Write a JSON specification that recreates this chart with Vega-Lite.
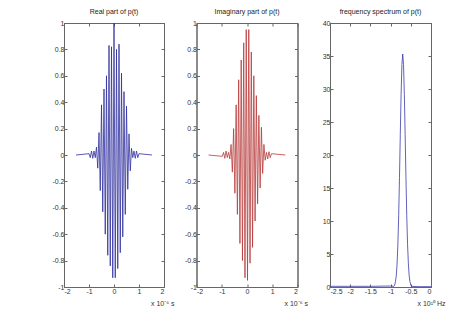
{
  "$schema": "https://vega.github.io/schema/vega-lite/v6.json",
  "padding": {"left": 51, "top": 7, "right": 25, "bottom": 14},
  "background": "white",
  "config": {
    "font": "Liberation Sans",
    "view": {"stroke": "#666666", "strokeWidth": 1},
    "axis": {"labelFontSize": 7, "labelColor": "#333333", "tickColor": "#666666", "domainColor": "#666666", "grid": false, "tickSize": -3, "labelPadding": 3, "titleFontSize": 7, "titleFontWeight": "normal", "titleColor": "#333333"},
    "title": {"fontSize": 7, "fontWeight": "normal", "color": "#222222", "offset": 4}
  },
  "datasets": {
    "real": [
      {"t": -1.52, "v": 0}, {"t": -1.0, "v": 0.01}, {"t": -0.95, "v": -0.02}, {"t": -0.9, "v": 0.03}, {"t": -0.85, "v": -0.025},
      {"t": -0.8, "v": 0.03}, {"t": -0.75, "v": -0.02}, {"t": -0.7, "v": 0.06}, {"t": -0.65, "v": -0.1}, {"t": -0.6, "v": 0.17},
      {"t": -0.55, "v": -0.27}, {"t": -0.5, "v": 0.38}, {"t": -0.45, "v": -0.43}, {"t": -0.4, "v": 0.5}, {"t": -0.35, "v": -0.6},
      {"t": -0.3, "v": 0.6}, {"t": -0.25, "v": -0.76}, {"t": -0.2, "v": 0.83}, {"t": -0.15, "v": -0.84}, {"t": -0.1, "v": 0.82},
      {"t": -0.05, "v": -0.93}, {"t": 0, "v": 1.0}, {"t": 0.05, "v": -0.93}, {"t": 0.1, "v": 0.8}, {"t": 0.15, "v": -0.86},
      {"t": 0.2, "v": 0.84}, {"t": 0.25, "v": -0.74}, {"t": 0.3, "v": 0.62}, {"t": 0.35, "v": -0.62}, {"t": 0.4, "v": 0.48},
      {"t": 0.45, "v": -0.45}, {"t": 0.5, "v": 0.37}, {"t": 0.55, "v": -0.26}, {"t": 0.6, "v": 0.16}, {"t": 0.65, "v": -0.12},
      {"t": 0.7, "v": 0.05}, {"t": 0.75, "v": -0.02}, {"t": 0.8, "v": 0.03}, {"t": 0.85, "v": -0.025}, {"t": 0.9, "v": 0.03},
      {"t": 0.95, "v": -0.02}, {"t": 1.0, "v": 0.01}, {"t": 1.52, "v": 0}
    ],
    "imag": [
      {"t": -1.52, "v": 0}, {"t": -0.98, "v": -0.01}, {"t": -0.93, "v": 0.02}, {"t": -0.88, "v": -0.025}, {"t": -0.83, "v": 0.03},
      {"t": -0.78, "v": -0.02}, {"t": -0.73, "v": 0.02}, {"t": -0.68, "v": -0.03}, {"t": -0.63, "v": 0.08}, {"t": -0.58, "v": -0.13},
      {"t": -0.53, "v": 0.2}, {"t": -0.48, "v": -0.29}, {"t": -0.43, "v": 0.38}, {"t": -0.38, "v": -0.45}, {"t": -0.33, "v": 0.57},
      {"t": -0.28, "v": -0.67}, {"t": -0.23, "v": 0.72}, {"t": -0.18, "v": -0.8}, {"t": -0.13, "v": 0.85}, {"t": -0.08, "v": -0.93},
      {"t": -0.03, "v": 0.95}, {"t": 0.02, "v": -0.95}, {"t": 0.07, "v": 0.95}, {"t": 0.12, "v": -0.82}, {"t": 0.17, "v": 0.78},
      {"t": 0.22, "v": -0.7}, {"t": 0.27, "v": 0.6}, {"t": 0.32, "v": -0.5}, {"t": 0.37, "v": 0.45}, {"t": 0.42, "v": -0.37},
      {"t": 0.47, "v": 0.3}, {"t": 0.52, "v": -0.25}, {"t": 0.57, "v": 0.21}, {"t": 0.62, "v": -0.14}, {"t": 0.67, "v": 0.08},
      {"t": 0.72, "v": -0.04}, {"t": 0.77, "v": 0.02}, {"t": 0.82, "v": -0.03}, {"t": 0.87, "v": 0.025}, {"t": 0.92, "v": -0.02},
      {"t": 0.97, "v": 0.01}, {"t": 1.52, "v": 0}
    ],
    "spec": [
      {"f": -2.5, "a": 0.1}, {"f": -2.0, "a": 0.1}, {"f": -1.5, "a": 0.1}, {"f": -1.0, "a": 0.15}, {"f": -0.92, "a": 0.1},
      {"f": -0.9, "a": 0.3}, {"f": -0.88, "a": 0.8}, {"f": -0.86, "a": 1.7}, {"f": -0.84, "a": 3.5}, {"f": -0.82, "a": 6.4},
      {"f": -0.8, "a": 10.8}, {"f": -0.78, "a": 16.6}, {"f": -0.76, "a": 23.1}, {"f": -0.74, "a": 29.2}, {"f": -0.72, "a": 33.7},
      {"f": -0.7, "a": 35.3}, {"f": -0.68, "a": 33.7}, {"f": -0.66, "a": 29.2}, {"f": -0.64, "a": 23.1}, {"f": -0.62, "a": 16.6},
      {"f": -0.6, "a": 10.8}, {"f": -0.58, "a": 6.4}, {"f": -0.56, "a": 3.5}, {"f": -0.54, "a": 1.7}, {"f": -0.52, "a": 0.8},
      {"f": -0.5, "a": 0.3}, {"f": -0.48, "a": 0.1}, {"f": -0.3, "a": 0.05}, {"f": 0, "a": 0.05}
    ]
  },
  "bounds": "flush",
  "spacing": 32.5,
  "hconcat": [
    {
      "title": "Real part of p(t)",
      "width": 100, "height": 264,
      "data": {"name": "real"},
      "layer": [
        {"mark": {"type": "line", "color": "#2e2e9e", "strokeWidth": 0.8},
         "encoding": {
           "x": {"field": "t", "type": "quantitative", "scale": {"domain": [-2, 2], "nice": false},
                 "axis": {"values": [-2, -1, 0, 1, 2], "labelExpr": "toString(datum.value)", "title": "x 10⁻⁶   s", "titleAlign": "right", "titleX": 110, "titleY": 12}},
           "y": {"field": "v", "type": "quantitative", "scale": {"domain": [-1, 1], "nice": false},
                 "axis": {"values": [-1, -0.8, -0.6, -0.4, -0.2, 0, 0.2, 0.4, 0.6, 0.8, 1], "labelExpr": "toString(datum.value)", "title": null}}
         }},
        {"mark": {"type": "line", "strokeOpacity": 0},
         "encoding": {
           "x": {"field": "t", "type": "quantitative", "axis": {"orient": "top", "labels": false, "title": null, "values": [-2, -1, 0, 1, 2]}},
           "y": {"field": "v", "type": "quantitative", "axis": {"orient": "right", "labels": false, "title": null, "values": [-1, -0.8, -0.6, -0.4, -0.2, 0, 0.2, 0.4, 0.6, 0.8, 1]}}
         }}
      ],
      "resolve": {"axis": {"x": "independent", "y": "independent"}}
    },
    {
      "title": "Imaginary part of p(t)",
      "width": 101, "height": 264,
      "data": {"name": "imag"},
      "layer": [
        {"mark": {"type": "line", "color": "#b83a3a", "strokeWidth": 0.8},
         "encoding": {
           "x": {"field": "t", "type": "quantitative", "scale": {"domain": [-2, 2], "nice": false},
                 "axis": {"values": [-2, -1, 0, 1, 2], "labelExpr": "toString(datum.value)", "title": "x 10⁻⁶   s", "titleAlign": "right", "titleX": 111, "titleY": 12}},
           "y": {"field": "v", "type": "quantitative", "scale": {"domain": [-1, 1], "nice": false},
                 "axis": {"values": [-1, -0.8, -0.6, -0.4, -0.2, 0, 0.2, 0.4, 0.6, 0.8, 1], "labelExpr": "toString(datum.value)", "title": null}}
         }},
        {"mark": {"type": "line", "strokeOpacity": 0},
         "encoding": {
           "x": {"field": "t", "type": "quantitative", "axis": {"orient": "top", "labels": false, "title": null, "values": [-2, -1, 0, 1, 2]}},
           "y": {"field": "v", "type": "quantitative", "axis": {"orient": "right", "labels": false, "title": null, "values": [-1, -0.8, -0.6, -0.4, -0.2, 0, 0.2, 0.4, 0.6, 0.8, 1]}}
         }}
      ],
      "resolve": {"axis": {"x": "independent", "y": "independent"}}
    },
    {
      "title": "frequency spectrum of p(t)",
      "width": 101, "height": 264,
      "data": {"name": "spec"},
      "layer": [
        {"mark": {"type": "line", "color": "#3a3aa8", "strokeWidth": 0.8},
         "encoding": {
           "x": {"field": "f", "type": "quantitative", "scale": {"domain": [-2.5, 0], "nice": false},
                 "axis": {"values": [-2.5, -2, -1.5, -1, -0.5, 0], "labelExpr": "toString(datum.value)", "title": "x 10¹⁰   Hz", "titleAlign": "right", "titleX": 115, "titleY": 12}},
           "y": {"field": "a", "type": "quantitative", "scale": {"domain": [0, 40], "nice": false},
                 "axis": {"values": [0, 5, 10, 15, 20, 25, 30, 35, 40], "labelExpr": "toString(datum.value)", "title": null}}
         }},
        {"mark": {"type": "line", "strokeOpacity": 0},
         "encoding": {
           "x": {"field": "f", "type": "quantitative", "axis": {"orient": "top", "labels": false, "title": null, "values": [-2.5, -2, -1.5, -1, -0.5, 0]}},
           "y": {"field": "a", "type": "quantitative", "axis": {"orient": "right", "labels": false, "title": null, "values": [0, 5, 10, 15, 20, 25, 30, 35, 40]}}
         }}
      ],
      "resolve": {"axis": {"x": "independent", "y": "independent"}}
    }
  ]
}
